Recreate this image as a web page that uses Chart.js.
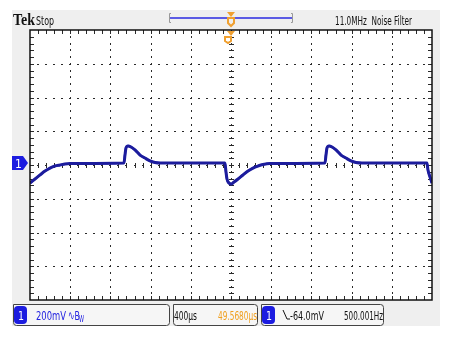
<!DOCTYPE html>
<html>
<head>
<meta charset="utf-8">
<script src="https://cdn.jsdelivr.net/npm/chart.js@4/dist/chart.umd.min.js"></script>
<style>
  html, body { margin: 0; padding: 0; background: #fff; }
  canvas { display: block; }
</style>
</head>
<body>
<canvas id="scope" width="456" height="345"></canvas>
<script>
// trace: time in µs, level in mV (200 mV/div, 400 µs/div)
const timeUs = [0, 50, 100, 149, 199, 249, 299, 348, 398,
  935, 945, 955, 975, 1005, 1045, 1095, 1144, 1194, 1244, 1294,
  1940, 1950, 1960, 1980, 2000, 2030, 2070, 2119, 2169, 2219, 2269, 2318, 2388,
  2935, 2945, 2955, 2975, 3005, 3045, 3095, 3144, 3194, 3244, 3303,
  3950, 3960, 3980, 4000];
const voltMv = [-107, -83, -59, -36, -18, -6, 0, 6, 9,
  12, 59, 101, 113, 107, 89, 59, 41, 24, 15, 12,
  12, -41, -83, -107, -113, -101, -83, -59, -36, -18, -6, 3, 9,
  12, 59, 101, 113, 107, 89, 59, 41, 24, 15, 12,
  12, -30, -71, -107];

const xDivs = [0, 400, 800, 1200, 1600, 2000, 2400, 2800, 3200, 3600, 4000];
const yDivs = [-800, -600, -400, -200, 0, 200, 400, 600, 800];

const channelLabel = '1';
const scaleText = '200mV';
const timebaseText = '400µs';
const delayText = '49.5680µs';
const trigLevelText = '-64.0mV';
const freqText = '500.001Hz';
const topRightText = '11.0MHz  Noise Filter';

const points = timeUs.map((t, i) => ({ x: t, y: voltMv[i] }));
const NARROW = "'Liberation Sans Narrow', 'DejaVu Sans Condensed', 'Liberation Sans', sans-serif";

// squeeze text into the width it has on the scope screen
function txt(ctx, s, x, y, w) {
  const m = ctx.measureText(s).width;
  ctx.fillText(s, x, y, Math.min(m, w));
}

const scopeFrame = {
  id: 'scopeFrame',
  beforeDraw(chart) {
    const { ctx, chartArea: a } = chart;
    ctx.save();
    ctx.fillStyle = '#fff';
    ctx.fillRect(0, 0, chart.width, chart.height);
    ctx.fillStyle = '#efefef';
    ctx.fillRect(12, 10, 428, 316);
    ctx.fillStyle = '#fff';
    ctx.fillRect(a.left, a.top, a.right - a.left, a.bottom - a.top);
    ctx.restore();
  },
  beforeDatasetsDraw(chart) {
    const { ctx, chartArea: a, scales } = chart;
    const xs = scales.x, ys = scales.y;
    ctx.save();
    ctx.fillStyle = '#2a2a2a';
    // dotted graticule, one dot per fifth of a division
    xDivs.slice(1, -1).forEach(v => {
      const px = Math.round(xs.getPixelForValue(v));
      for (let k = 1; k < 40; k++) {
        const py = ys.getPixelForValue(-800 + k * 40);
        ctx.fillRect(px, Math.round(py) - 1, 1, 2);
      }
    });
    yDivs.slice(1, -1).forEach(v => {
      const py = Math.round(ys.getPixelForValue(v));
      for (let k = 1; k < 50; k++) {
        const px = xs.getPixelForValue(k * 80);
        ctx.fillRect(Math.round(px) - 1, py, 2, 1);
      }
    });
    // minor ticks on the centre lines and along the border
    const cx = Math.round(xs.getPixelForValue(2000));
    const cy = Math.round(ys.getPixelForValue(0));
    for (let k = 1; k < 50; k++) {
      const px = Math.round(xs.getPixelForValue(k * 80));
      ctx.fillRect(px, cy - 2, 1, 5);
      ctx.fillRect(px, a.top, 1, 4);
      ctx.fillRect(px, a.bottom - 4, 1, 4);
    }
    for (let k = 1; k < 40; k++) {
      const py = Math.round(ys.getPixelForValue(-800 + k * 40));
      ctx.fillRect(cx - 2, py, 5, 1);
      ctx.fillRect(a.left, py, 4, 1);
      ctx.fillRect(a.right - 4, py, 4, 1);
    }
    ctx.restore();
  },
  afterDraw(chart) {
    const { ctx, chartArea: a, scales } = chart;
    const xs = scales.x, ys = scales.y;
    ctx.save();
    ctx.strokeStyle = '#111';
    ctx.lineWidth = 1.5;
    ctx.strokeRect(a.left, a.top, a.right - a.left, a.bottom - a.top);

    // header
    ctx.fillStyle = '#111';
    ctx.textBaseline = 'alphabetic';
    ctx.font = "bold 16px 'Liberation Serif', serif";
    txt(ctx, 'Tek', 13, 25, 22);
    ctx.font = '13px ' + NARROW;
    txt(ctx, 'Stop', 36, 25, 18);
    txt(ctx, topRightText, 335, 25, 77);

    // record bar
    ctx.strokeStyle = '#999';
    ctx.lineWidth = 1;
    ctx.beginPath();
    ctx.moveTo(171, 13.5); ctx.lineTo(169.5, 13.5); ctx.lineTo(169.5, 22.5); ctx.lineTo(171, 22.5);
    ctx.moveTo(291, 13.5); ctx.lineTo(292.5, 13.5); ctx.lineTo(292.5, 22.5); ctx.lineTo(291, 22.5);
    ctx.stroke();
    ctx.strokeStyle = '#2a2ae0';
    ctx.lineWidth = 1.5;
    ctx.beginPath(); ctx.moveTo(170, 18); ctx.lineTo(292, 18); ctx.stroke();

    // trigger markers
    const tx = xs.getPixelForValue(2000);
    ctx.fillStyle = '#f0a030';
    ctx.beginPath(); ctx.moveTo(tx - 4, 12); ctx.lineTo(tx + 4, 12); ctx.lineTo(tx, 17); ctx.fill();
    ctx.strokeStyle = '#f0a030';
    ctx.lineWidth = 2;
    ctx.beginPath();
    ctx.moveTo(tx - 3, 18); ctx.lineTo(tx - 3, 23); ctx.lineTo(tx, 26); ctx.lineTo(tx + 3, 23); ctx.lineTo(tx + 3, 18);
    ctx.closePath(); ctx.stroke();
    ctx.fillStyle = '#f0a030';
    ctx.beginPath(); ctx.moveTo(tx - 4, a.top + 1); ctx.lineTo(tx + 4, a.top + 1); ctx.lineTo(tx, a.top + 6); ctx.fill();
    ctx.beginPath();
    ctx.moveTo(tx - 6, a.top + 7); ctx.lineTo(tx - 6, a.top + 11); ctx.lineTo(tx - 3, a.top + 13); ctx.lineTo(tx, a.top + 11); ctx.lineTo(tx, a.top + 7);
    ctx.closePath(); ctx.stroke();

    // channel ground marker
    const gy = ys.getPixelForValue(12);
    ctx.fillStyle = '#1c1ce0';
    ctx.beginPath();
    ctx.moveTo(12, gy - 7); ctx.lineTo(23, gy - 7); ctx.lineTo(28, gy); ctx.lineTo(23, gy + 7); ctx.lineTo(12, gy + 7);
    ctx.closePath(); ctx.fill();
    ctx.fillStyle = '#fff';
    ctx.font = '12px ' + NARROW;
    txt(ctx, channelLabel, 15, gy + 5, 7);

    // status bar
    const box = (x0, x1) => {
      ctx.fillStyle = '#f6f6f6';
      ctx.strokeStyle = '#444';
      ctx.lineWidth = 1;
      ctx.beginPath();
      ctx.moveTo(x0 + 0.5, 304.5);
      ctx.lineTo(x1 - 3.5, 304.5); ctx.quadraticCurveTo(x1 - 0.5, 304.5, x1 - 0.5, 307.5);
      ctx.lineTo(x1 - 0.5, 322.5); ctx.quadraticCurveTo(x1 - 0.5, 325.5, x1 - 3.5, 325.5);
      ctx.lineTo(x0 + 3.5, 325.5); ctx.quadraticCurveTo(x0 + 0.5, 325.5, x0 + 0.5, 322.5);
      ctx.closePath(); ctx.fill(); ctx.stroke();
    };
    const badge = (x) => {
      ctx.fillStyle = '#1c1ce0';
      ctx.beginPath();
      ctx.roundRect(x, 306, 13, 18, 4);
      ctx.fill();
      ctx.fillStyle = '#fff';
      ctx.font = '12px ' + NARROW;
      txt(ctx, channelLabel, x + 4, 320, 6);
    };
    box(13, 170); box(173, 258); box(261, 384);
    badge(14); badge(262);

    ctx.font = '13px ' + NARROW;
    ctx.fillStyle = '#2323e0';
    txt(ctx, scaleText, 36, 320, 30);
    txt(ctx, '∿B', 68, 320, 12);
    ctx.font = '9px ' + NARROW;
    txt(ctx, 'W', 79, 322, 5);

    ctx.font = '13px ' + NARROW;
    ctx.fillStyle = '#111';
    txt(ctx, timebaseText, 174, 320, 23);
    ctx.fillStyle = '#f0a020';
    txt(ctx, delayText, 218, 320, 39);
    ctx.fillStyle = '#111';
    txt(ctx, freqText, 344, 320, 39);
    txt(ctx, trigLevelText, 290, 320, 34);
    // falling-edge slope symbol
    ctx.strokeStyle = '#111';
    ctx.lineWidth = 1;
    ctx.beginPath();
    ctx.moveTo(283, 310); ctx.lineTo(287, 319); ctx.lineTo(290, 319);
    ctx.stroke();
    ctx.restore();
  }
};

new Chart(document.getElementById('scope').getContext('2d'), {
  type: 'line',
  data: {
    datasets: [{
      label: 'edge',
      data: points,
      borderColor: '#1c1c9c',
      borderWidth: 3,
      pointRadius: 0,
      cubicInterpolationMode: 'monotone',
      fill: false
    }, {
      label: 'ch1',
      data: points,
      borderColor: '#3434ee',
      borderWidth: 2.2,
      pointRadius: 0,
      cubicInterpolationMode: 'monotone',
      fill: false
    }]
  },
  options: {
    responsive: false,
    animation: false,
    devicePixelRatio: 1,
    layout: { padding: { left: 30, top: 30, right: 24, bottom: 45 } },
    plugins: { legend: { display: false }, tooltip: { enabled: false } },
    scales: {
      x: {
        type: 'linear', min: 0, max: 4000,
        ticks: { display: false, stepSize: 400 },
        grid: { display: false, drawTicks: false },
        border: { display: false }
      },
      y: {
        type: 'linear', min: -800, max: 800,
        ticks: { display: false, stepSize: 200 },
        grid: { display: false, drawTicks: false },
        border: { display: false }
      }
    }
  },
  plugins: [scopeFrame]
});
</script>
</body>
</html>
